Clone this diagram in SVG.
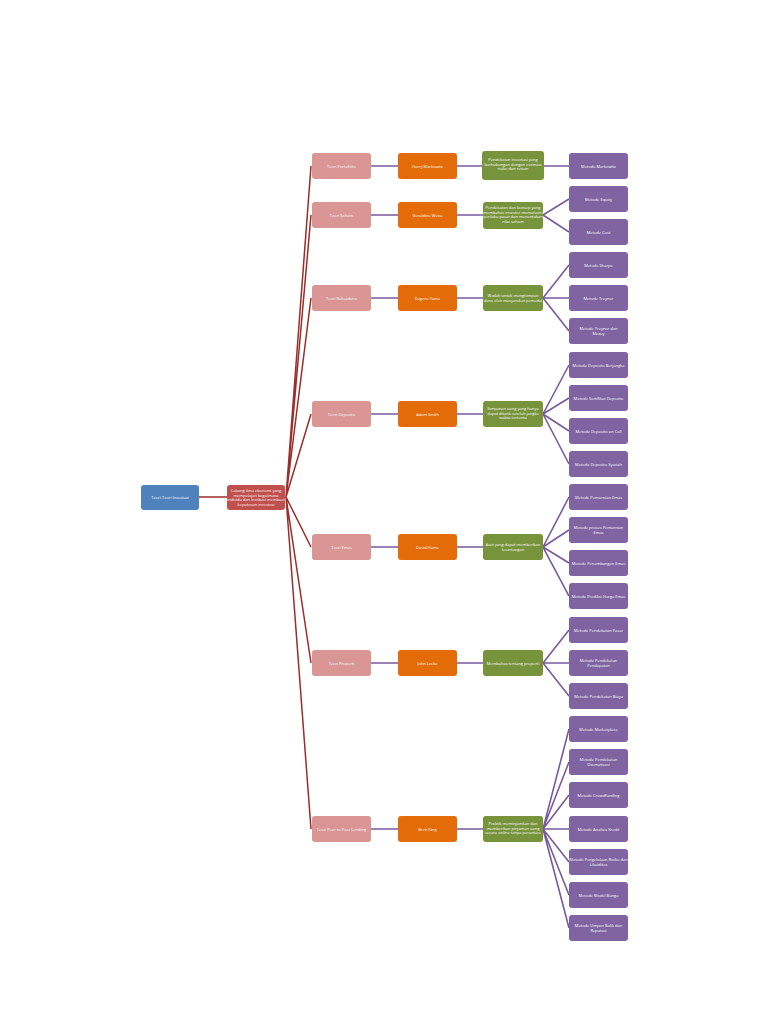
<svg xmlns="http://www.w3.org/2000/svg" width="768" height="1024" viewBox="0 0 768 1024">
<style>
.n rect{rx:3;ry:3}
text{font-family:"Open Sans","Liberation Sans",sans-serif;font-size:4px;fill:#fff;text-anchor:middle}
.b{fill:#4f81bd}.r{fill:#c0504d}.p{fill:#d99694}.o{fill:#e36c09}.g{fill:#77933c}.u{fill:#8064a2}
.cr{stroke:#9b2d2a;stroke-width:1.5;fill:none}.cu{stroke:#7a5a9e;stroke-width:1.6;fill:none}
</style>
<rect width="768" height="1024" fill="#fff"/>
<g id="connectors">
<line class="cr" x1="199" y1="497" x2="227" y2="497"/>
<path class="cr" d="M286 497 L311 166 M286 497 L311 215 M286 497 L311 298 M286 497 L311 414 M286 497 L311 547 M286 497 L311 663 M286 497 L311 829"/>
<path class="cu" d="M371 166H398M371 215H398M371 298H398M371 414H398M371 547H398M371 663H398M371 829H398M457 166H482M457 215H483M457 298H483M457 414H483M457 547H483M457 663H483M457 829H483"/>
<path class="cu" d="M544 166L569 166 M543 215L569 199 M543 215L569 232 M543 298L569 265 M543 298L569 298 M543 298L569 331 M543 414L569 365 M543 414L569 398 M543 414L569 431 M543 414L569 464 M543 547L569 497 M543 547L569 530 M543 547L569 563 M543 547L569 596 M543 663L569 630 M543 663L569 663 M543 663L569 696 M543 829L569 729 M543 829L569 762 M543 829L569 795 M543 829L569 829 M543 829L569 862 M543 829L569 895 M543 829L569 928"/>
</g>
<g id="root" class="n"><rect class="b" x="141" y="485" width="58" height="25"/><text x="170" y="499">Teori-Teori Investasi</text></g>
<g id="def" class="n"><rect class="r" x="227" y="485" width="58" height="25"/><text x="256" y="492"><tspan x="256">Cabang ilmu ekonomi yang</tspan><tspan x="256" dy="4.5">mempelajari bagaimana</tspan><tspan x="256" dy="4.5">individu dan institusi membuat</tspan><tspan x="256" dy="4.5">keputusan investasi</tspan></text></g>

<g id="p1" class="n"><rect class="p" x="312" y="153" width="59" height="26"/><text x="341.5" y="167.5">Teori Portofolio</text></g>
<g id="p2" class="n"><rect class="p" x="312" y="202" width="59" height="26"/><text x="341.5" y="216.5">Teori Saham</text></g>
<g id="p3" class="n"><rect class="p" x="312" y="285" width="59" height="26"/><text x="341.5" y="299.5">Teori Reksadana</text></g>
<g id="p4" class="n"><rect class="p" x="312" y="401" width="59" height="26"/><text x="341.5" y="415.5">Teori Deposito</text></g>
<g id="p5" class="n"><rect class="p" x="312" y="534" width="59" height="26"/><text x="341.5" y="548.5">Teori Emas</text></g>
<g id="p6" class="n"><rect class="p" x="312" y="650" width="59" height="26"/><text x="341.5" y="664.5">Teori Properti</text></g>
<g id="p7" class="n"><rect class="p" x="312" y="816" width="59" height="26"/><text x="341.5" y="830.5">Teori Peer to Peer Lending</text></g>

<g id="o1" class="n"><rect class="o" x="398" y="153" width="59" height="26"/><text x="427.5" y="167.5">Harry Markowitz</text></g>
<g id="o2" class="n"><rect class="o" x="398" y="202" width="59" height="26"/><text x="427.5" y="216.5">Geraldine Weiss</text></g>
<g id="o3" class="n"><rect class="o" x="398" y="285" width="59" height="26"/><text x="427.5" y="299.5">Eugene Fama</text></g>
<g id="o4" class="n"><rect class="o" x="398" y="401" width="59" height="26"/><text x="427.5" y="415.5">Adam Smith</text></g>
<g id="o5" class="n"><rect class="o" x="398" y="534" width="59" height="26"/><text x="427.5" y="548.5">David Hume</text></g>
<g id="o6" class="n"><rect class="o" x="398" y="650" width="59" height="26"/><text x="427.5" y="664.5">John Locke</text></g>
<g id="o7" class="n"><rect class="o" x="398" y="816" width="59" height="26"/><text x="427.5" y="830.5">Brett King</text></g>

<g id="g1" class="n"><rect class="g" x="482" y="151" width="62" height="29"/><text x="513" y="161"><tspan x="513">Pendekatan investasi yang</tspan><tspan x="513" dy="4.5">berhubungan dengan estimasi</tspan><tspan x="513" dy="4.5">risiko dan return</tspan></text></g>
<g id="g2" class="n"><rect class="g" x="483" y="202" width="60" height="27"/><text x="513" y="209"><tspan x="513">Pendekatan dan konsep yang</tspan><tspan x="513" dy="4.5">membahas investor memahami</tspan><tspan x="513" dy="4.5">perilaku pasar dan menentukan</tspan><tspan x="513" dy="4.5">nilai saham</tspan></text></g>
<g id="g3" class="n"><rect class="g" x="483" y="285" width="60" height="26"/><text x="513" y="297"><tspan x="513">Wadah untuk menghimpun</tspan><tspan x="513" dy="4.5">dana oleh masyarakat pemodal</tspan></text></g>
<g id="g4" class="n"><rect class="g" x="483" y="401" width="60" height="26"/><text x="513" y="410"><tspan x="513">Simpanan uang yang hanya</tspan><tspan x="513" dy="4.5">dapat ditarik setelah jangka</tspan><tspan x="513" dy="4.5">waktu tertentu</tspan></text></g>
<g id="g5" class="n"><rect class="g" x="483" y="534" width="60" height="26"/><text x="513" y="546"><tspan x="513">Aset yang dapat memberikan</tspan><tspan x="513" dy="4.5">keuntungan</tspan></text></g>
<g id="g6" class="n"><rect class="g" x="483" y="650" width="60" height="26"/><text x="513" y="664.5">Membahas tentang properti</text></g>
<g id="g7" class="n"><rect class="g" x="483" y="816" width="60" height="26"/><text x="513" y="825"><tspan x="513">Praktik meminjamkan dan</tspan><tspan x="513" dy="4.5">memberikan pinjaman uang</tspan><tspan x="513" dy="4.5">secara online tanpa perantara</tspan></text></g>

<g id="m1" class="n"><rect class="u" x="569" y="153" width="59" height="26"/><text x="598.5" y="167.5">Metode Markowitz</text></g>
<g id="m2" class="n"><rect class="u" x="569" y="186" width="59" height="26"/><text x="598.5" y="200.5">Metode Equity</text></g>
<g id="m3" class="n"><rect class="u" x="569" y="219" width="59" height="26"/><text x="598.5" y="233.5">Metode Cost</text></g>
<g id="m4" class="n"><rect class="u" x="569" y="252" width="59" height="26"/><text x="598.5" y="266.5">Metode Sharpe</text></g>
<g id="m5" class="n"><rect class="u" x="569" y="285" width="59" height="26"/><text x="598.5" y="299.5">Metode Treynor</text></g>
<g id="m6" class="n"><rect class="u" x="569" y="318" width="59" height="26"/><text x="598.5" y="330"><tspan x="598.5">Metode Treynor dan</tspan><tspan x="598.5" dy="4.5">Mazuy</tspan></text></g>
<g id="m7" class="n"><rect class="u" x="569" y="352" width="59" height="26"/><text x="598.5" y="366.5">Metode Deposito Berjangka</text></g>
<g id="m8" class="n"><rect class="u" x="569" y="385" width="59" height="26"/><text x="598.5" y="399.5">Metode Sertifikat Deposito</text></g>
<g id="m9" class="n"><rect class="u" x="569" y="418" width="59" height="26"/><text x="598.5" y="432.5">Metode Deposito on Call</text></g>
<g id="m10" class="n"><rect class="u" x="569" y="451" width="59" height="26"/><text x="598.5" y="465.5">Metode Deposito Syariah</text></g>
<g id="m11" class="n"><rect class="u" x="569" y="484" width="59" height="26"/><text x="598.5" y="498.5">Metode Pemurnian Emas</text></g>
<g id="m12" class="n"><rect class="u" x="569" y="517" width="59" height="26"/><text x="598.5" y="529"><tspan x="598.5">Metode proses Pemurnian</tspan><tspan x="598.5" dy="4.5">Emas</tspan></text></g>
<g id="m13" class="n"><rect class="u" x="569" y="550" width="59" height="26"/><text x="598.5" y="564.5">Metode Penambangan Emas</text></g>
<g id="m14" class="n"><rect class="u" x="569" y="583" width="59" height="26"/><text x="598.5" y="597.5">Metode Prediksi Harga Emas</text></g>
<g id="m15" class="n"><rect class="u" x="569" y="617" width="59" height="26"/><text x="598.5" y="631.5">Metode Pendekatan Pasar</text></g>
<g id="m16" class="n"><rect class="u" x="569" y="650" width="59" height="26"/><text x="598.5" y="662"><tspan x="598.5">Metode Pendekatan</tspan><tspan x="598.5" dy="4.5">Pendapatan</tspan></text></g>
<g id="m17" class="n"><rect class="u" x="569" y="683" width="59" height="26"/><text x="598.5" y="697.5">Metode Pendekatan Biaya</text></g>
<g id="m18" class="n"><rect class="u" x="569" y="716" width="59" height="26"/><text x="598.5" y="730.5">Metode Marketplace</text></g>
<g id="m19" class="n"><rect class="u" x="569" y="749" width="59" height="26"/><text x="598.5" y="761"><tspan x="598.5">Metode Pendekatan</tspan><tspan x="598.5" dy="4.5">Otomatisasi</tspan></text></g>
<g id="m20" class="n"><rect class="u" x="569" y="782" width="59" height="26"/><text x="598.5" y="796.5">Metode Crowdfunding</text></g>
<g id="m21" class="n"><rect class="u" x="569" y="816" width="59" height="26"/><text x="598.5" y="830.5">Metode Analisis Kredit</text></g>
<g id="m22" class="n"><rect class="u" x="569" y="849" width="59" height="26"/><text x="598.5" y="861"><tspan x="598.5">Metode Pengelolaan Risiko dan</tspan><tspan x="598.5" dy="4.5">Likuiditas</tspan></text></g>
<g id="m23" class="n"><rect class="u" x="569" y="882" width="59" height="26"/><text x="598.5" y="896.5">Metode Model Bunga</text></g>
<g id="m24" class="n"><rect class="u" x="569" y="915" width="59" height="26"/><text x="598.5" y="927"><tspan x="598.5">Metode Umpan Balik dan</tspan><tspan x="598.5" dy="4.5">Reputasi</tspan></text></g>
</svg>
